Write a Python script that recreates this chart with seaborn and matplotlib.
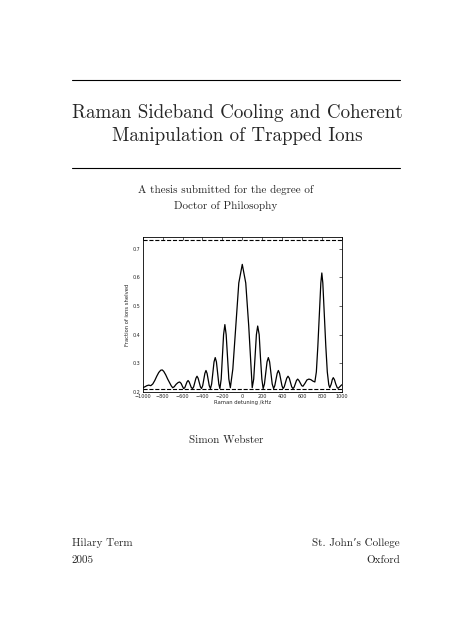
import matplotlib
matplotlib.use("Agg")
import matplotlib.pyplot as plt
import seaborn as sns
import pandas as pd

detuning = [-1000,-980,-960,-940,-920,-900,-880,-860,-840,-820,-805,-790,-770,-750,-730,-715,-700,-685,-665,-645,-630,-615,-602,-590,
            -578,-567,-556,-545,-534,-523,-512,-500,-489,-478,-466,-455,-444,-432,-421,-410,-398,-387,-376,-365,-354,-343,-332,
            -320,-308,-296,-284,-272,-260,-248,-236,-225,-212,-200,-188,-175,-162,-148,-135,-120,-95,-65,-35,0,35,65,90,
            100,115,128,142,155,170,183,197,210,223,236,249,262,275,288,301,315,327,339,351,363,375,387,399,410,
            422,435,447,460,473,485,497,510,522,533,545,557,570,585,598,610,630,650,670,690,710,730,
            745,760,775,790,800,810,825,840,855,870,880,895,905,915,927,940,955,965,980,1000]
fraction = [0.215,0.218,0.222,0.224,0.222,0.228,0.24,0.255,0.268,0.276,0.277,0.272,0.26,0.245,0.232,0.222,0.215,0.218,0.227,0.233,0.235,0.23,0.22,0.212,
            0.215,0.225,0.235,0.24,0.235,0.225,0.215,0.212,0.218,0.233,0.248,0.255,0.248,0.233,0.218,0.212,0.222,0.243,0.265,0.275,0.265,0.243,0.222,
            0.212,0.228,0.265,0.305,0.32,0.305,0.265,0.228,0.212,0.245,0.32,0.40,0.435,0.40,0.32,0.245,0.215,0.28,0.43,0.58,0.645,0.58,0.43,0.28,
            0.215,0.245,0.32,0.40,0.43,0.40,0.32,0.245,0.212,0.228,0.265,0.305,0.32,0.305,0.265,0.228,0.212,0.222,0.243,0.265,0.275,0.265,0.243,0.222,0.212,
            0.218,0.233,0.248,0.255,0.248,0.233,0.218,0.212,0.217,0.228,0.24,0.245,0.24,0.23,0.222,0.22,0.23,0.242,0.245,0.243,0.238,0.235,
            0.27,0.36,0.47,0.58,0.615,0.58,0.47,0.36,0.27,0.225,0.215,0.228,0.243,0.25,0.243,0.228,0.215,0.213,0.218,0.225]
upper_level = 0.73
lower_level = 0.21
xticks = [-1000,-800,-600,-400,-200,0,200,400,600,800,1000]
yticks = [0.2,0.3,0.4,0.5,0.6,0.7]

sns.set_style("white")
plt.rcParams['font.family'] = ['DejaVu Sans']
serif = ['cmr10', 'DejaVu Serif']
plt.rcParams['axes.formatter.use_mathtext'] = True

fig = plt.figure(figsize=(4.52, 6.4), dpi=100)
ax = fig.add_axes([0.316, 0.3875, 0.44, 0.242])
df = pd.DataFrame({"d": detuning, "f": fraction})
sns.lineplot(data=df, x="d", y="f", ax=ax, color="black", lw=0.9)
ax.axhline(upper_level, color="black", ls="--", lw=0.8)
ax.axhline(lower_level, color="black", ls="--", lw=0.8)
ax.set_xlim(-1000, 1000)
ax.set_ylim(0.2, 0.74)
ax.set_xticks(xticks)
ax.set_yticks(yticks)
ax.set_xticklabels([str(t).replace('-', '\u2212') for t in xticks])
ax.set_yticklabels(["0.2","0.3","0.4","0.5","0.6","0.7"])
ax.tick_params(direction="in", top=True, right=True, labelsize=3.5, length=2, width=0.5, pad=1.5)
for s in ax.spines.values():
    s.set_linewidth(0.6); s.set_color("black")
ax.set_xlabel("Raman detuning /kHz", fontsize=3.8, labelpad=1)
ax.set_ylabel("Fraction of ions shelved", fontsize=3.8, labelpad=2)

fig.add_artist(plt.Line2D([72/452, 400/452], [1-80/640, 1-80/640], color="black", lw=0.8))
fig.add_artist(plt.Line2D([72/452, 400/452], [1-168/640, 1-168/640], color="black", lw=0.8))
fig.text(0.525, 1-113/640, "Raman Sideband Cooling and Coherent", ha="center", va="center", fontsize=13.7, family=serif)
fig.text(0.525, 1-136/640, "Manipulation of Trapped Ions", ha="center", va="center", fontsize=13.7, family=serif)
fig.text(0.5, 1-190/640, "A thesis submitted for the degree of", ha="center", va="center", fontsize=8, family=serif)
fig.text(0.5, 1-206/640, "Doctor of Philosophy", ha="center", va="center", fontsize=8, family=serif)
fig.text(0.5, 1-440/640, "Simon Webster", ha="center", va="center", fontsize=8, family=serif)
fig.text(72/452, 1-543/640, "Hilary Term", ha="left", va="center", fontsize=8, family=serif)
fig.text(72/452, 1-560/640, "2005", ha="left", va="center", fontsize=8, family=serif)
fig.text(400/452, 1-543/640, "St. John\u2019s College", ha="right", va="center", fontsize=8, family=serif)
fig.text(400/452, 1-560/640, "Oxford", ha="right", va="center", fontsize=8, family=serif)
fig.savefig("out.png", dpi=100)
